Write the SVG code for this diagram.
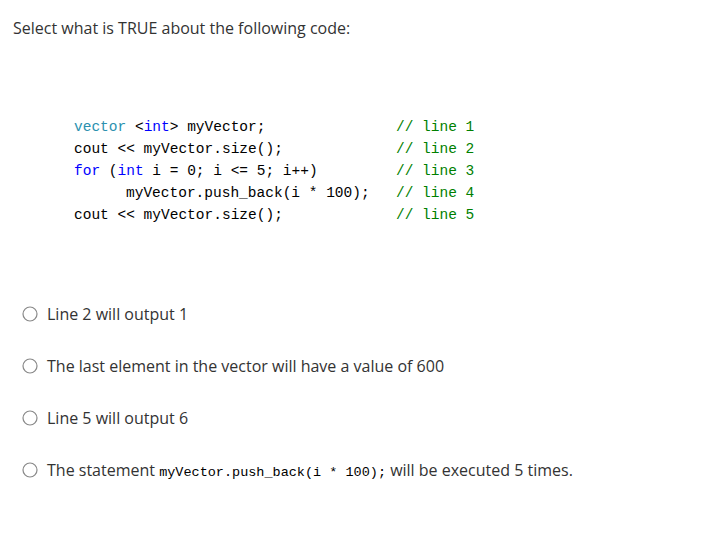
<svg xmlns="http://www.w3.org/2000/svg" width="720" height="533" viewBox="0 0 720 533">
<style>
.t{font-family:"Open Sans","Liberation Sans",sans-serif;font-size:16px;fill:#333}
.c{font-family:"Liberation Mono","DejaVu Sans Mono",monospace;font-size:14.5px;fill:#000;white-space:pre}
.k{fill:#0000ff}.ty{fill:#2b91af}.cm{fill:#008000}
.r{fill:#fff;stroke:#888;stroke-width:1.2}
</style>
<rect width="720" height="533" fill="#fff"/>
<text class="t" x="13" y="34">Select what is TRUE about the following code:</text>
<g class="c" xml:space="preserve">
<text x="74" y="131"><tspan class="ty">vector</tspan> &lt;<tspan class="k">int</tspan>&gt; myVector;</text>
<text x="74" y="153">cout &lt;&lt; myVector.size();</text>
<text x="74" y="175"><tspan class="k">for</tspan> (<tspan class="k">int</tspan> i = 0; i &lt;= 5; i++)</text>
<text x="126" y="197">myVector.push_back(i * 100);</text>
<text x="74" y="219">cout &lt;&lt; myVector.size();</text>
<text class="cm" x="396" y="131">// line 1</text>
<text class="cm" x="396" y="153">// line 2</text>
<text class="cm" x="396" y="175">// line 3</text>
<text class="cm" x="396" y="197">// line 4</text>
<text class="cm" x="396" y="219">// line 5</text>
</g>
<circle class="r" cx="30" cy="314" r="7"/>
<text class="t" x="47" y="320">Line 2 will output 1</text>
<circle class="r" cx="30" cy="366" r="7"/>
<text class="t" x="47" y="372">The last element in the vector will have a value of 600</text>
<circle class="r" cx="30" cy="418" r="7"/>
<text class="t" x="47" y="424">Line 5 will output 6</text>
<circle class="r" cx="30" cy="470" r="7"/>
<text class="t" x="47" y="476">The statement <tspan style="font-family:'Liberation Mono',monospace;font-size:13.5px;fill:#000">myVector.push_back(i * 100);</tspan> will be executed 5 times.</text>
</svg>
